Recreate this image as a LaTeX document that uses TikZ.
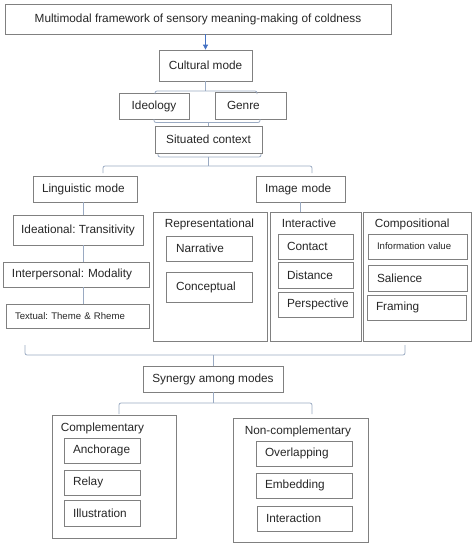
\documentclass[tikz,border=0pt]{standalone}
\usepackage{fontspec}
\setmainfont{Liberation Sans}
\usetikzlibrary{arrows.meta}
\frenchspacing
\definecolor{boxgray}{HTML}{808080}
\definecolor{linkgray}{HTML}{9AAAC2}
\definecolor{arrowblue}{HTML}{4472C4}
\tikzset{
  box/.style={draw=boxgray, line width=0.8pt, inner sep=0pt, text=black!85,
    font=\fontsize{11.8}{13}\selectfont},
  lbox/.style={box, inner xsep=9pt, align=left, text width=#1},
  title/.style={inner sep=0pt, anchor=north west, text=black!85,
    font=\fontsize{11.8}{13}\selectfont},
  small/.style={font=\fontsize{9.6}{11}\selectfont},
  link/.style={draw=linkgray, line width=0.8pt},
  brace/.style={link, rounded corners=2pt},
}
\begin{document}
\begin{tikzpicture}[x=1pt,y=-1pt]
  \useasboundingbox (0,0) rectangle (474,546);

  \node[box, minimum width=386pt, minimum height=30pt] (frame) at (198,19) {Multimodal framework of sensory meaning-making of coldness};
  \node[box, minimum width=93pt, minimum height=31pt] (cult) at (205.5,65.5) {Cultural mode};
  \node[box, minimum width=70pt, minimum height=26pt] (ideo) at (154,106) {Ideology};
  \node[lbox=53pt, inner xsep=12pt, text width=47pt, minimum height=27pt] (genre) at (250.5,105.5) {Genre};
  \node[box, minimum width=107pt, minimum height=27pt] (sit) at (208.5,139.5) {Situated context};

  \node[lbox=86pt, minimum height=26pt] (ling) at (85,189) {Linguistic mode};
  \node[lbox=71pt, minimum height=26pt] (img) at (300.5,189) {Image mode};

  % linguistic side
  \node[box, minimum width=130pt, minimum height=30pt] (ideat) at (78,230) {Ideational: Transitivity};
  \node[lbox=128pt, minimum height=25pt] (interp) at (76,274.5) {Interpersonal: Modality};
  \node[lbox=125pt, minimum height=24pt, small] (textual) at (77.5,316) {Textual: Theme \& Rheme};

  % image side
  \node[box, minimum width=114pt, minimum height=129pt] (repr) at (210,276.5) {};
  \node[title] (reprtitle) at ([shift={(12,7)}]repr.north west) {Representational};
  \node[lbox=68pt, inner xsep=10pt, text width=66pt, minimum height=25pt] (narr) at (209,248.5) {Narrative};
  \node[lbox=68pt, inner xsep=10pt, text width=66pt, minimum height=30pt] (concept) at (209,287) {Conceptual};

  \node[box, minimum width=91pt, minimum height=129pt] (inter) at (315.5,276.5) {};
  \node[title] (intertitle) at ([shift={(12,7)}]inter.north west) {Interactive};
  \node[lbox=57pt, minimum height=25pt] (contact) at (315.5,246.5) {Contact};
  \node[lbox=57pt, minimum height=26pt] (dist) at (315.5,275) {Distance};
  \node[lbox=57pt, minimum height=25pt] (persp) at (315.5,304.5) {Perspective};

  \node[box, minimum width=108pt, minimum height=129pt] (comp) at (417,276.5) {};
  \node[title] (comptitle) at ([shift={(12,7)}]comp.north west) {Compositional};
  \node[lbox=81pt, minimum height=25pt, small] (infoval) at (417.5,246.5) {Information value};
  \node[lbox=81pt, minimum height=26pt] (sal) at (417.5,278) {Salience};
  \node[lbox=81pt, minimum height=25pt] (fram) at (416.5,307.5) {Framing};

  % synergy
  \node[box, minimum width=140pt, minimum height=26pt] (syn) at (213,379) {Synergy among modes};

  \node[box, minimum width=124pt, minimum height=123pt] (compl) at (114,476.5) {};
  \node[title] (compltitle) at ([shift={(9,8)}]compl.north west) {Complementary};
  \node[lbox=58pt, minimum height=25pt] (anch) at (102,450.5) {Anchorage};
  \node[lbox=58pt, minimum height=25pt] (relay) at (102,482.5) {Relay};
  \node[lbox=58pt, minimum height=26pt] (illus) at (102,513) {Illustration};

  \node[box, minimum width=135pt, minimum height=124pt] (noncompl) at (300.5,480) {};
  \node[title] (noncompltitle) at ([shift={(12,8)}]noncompl.north west) {Non-complementary};
  \node[lbox=78pt, minimum height=25pt] (overl) at (304,453.5) {Overlapping};
  \node[lbox=78pt, minimum height=25pt] (embed) at (304,485.5) {Embedding};
  \node[lbox=77pt, minimum height=25pt] (interac) at (304.5,518.5) {Interaction};

  % brace ends
  \coordinate (cultL) at (155,94);
  \coordinate (cultR) at (257,94);
  \coordinate (ctxL) at (154,119);
  \coordinate (ctxR) at (260,119);
  \coordinate (sitL) at (158,154);
  \coordinate (sitR) at (261,154);
  \coordinate (modeL) at (103,173);
  \coordinate (modeR) at (312,173);
  \coordinate (allL) at (25,345);
  \coordinate (allR) at (405,345);
  \coordinate (pairL) at (119,414);
  \coordinate (pairR) at (312,414);

  % connectors
  \draw[-{Triangle[length=5pt,width=5pt]}, draw=arrowblue, fill=arrowblue, line width=0.8pt] (frame.south -| cult.north) -- (cult.north);

  \draw[link] (cult.south) -- (cult.south |- 0,91);
  \draw[brace] (cultL) |- (cult.south |- 0,91) -| (cultR);

  \draw[brace] (ctxL) |- (sit.north |- 0,122.5) -| (ctxR);
  \draw[link] (sit.north |- 0,122.5) -- (sit.north);

  \draw[brace] (sitL) |- (sit.south |- 0,157) -| (sitR);
  \draw[link] (sit.south |- 0,157) -- (sit.south |- 0,166);
  \draw[brace] (modeL) |- (sit.south |- 0,166) -| (modeR);

  \draw[link] ([xshift=-2pt]ling.south) -- ([xshift=-2pt]ling.south |- ideat.north);
  \draw[link] (ideat.south -| 83,0) -- (interp.north -| 83,0);
  \draw[link] (interp.south -| 83,0) -- (textual.north -| 83,0);
  \draw[link] (img.south) -- (img.south |- inter.north);

  \draw[brace] (allL) |- (syn.north |- 0,355) -| (allR);
  \draw[link] (syn.north |- 0,355) -- (syn.north);

  \draw[link] (syn.south) -- (syn.south |- 0,403);
  \draw[brace] (pairL) |- (syn.south |- 0,403) -| (pairR);
\end{tikzpicture}
\end{document}
